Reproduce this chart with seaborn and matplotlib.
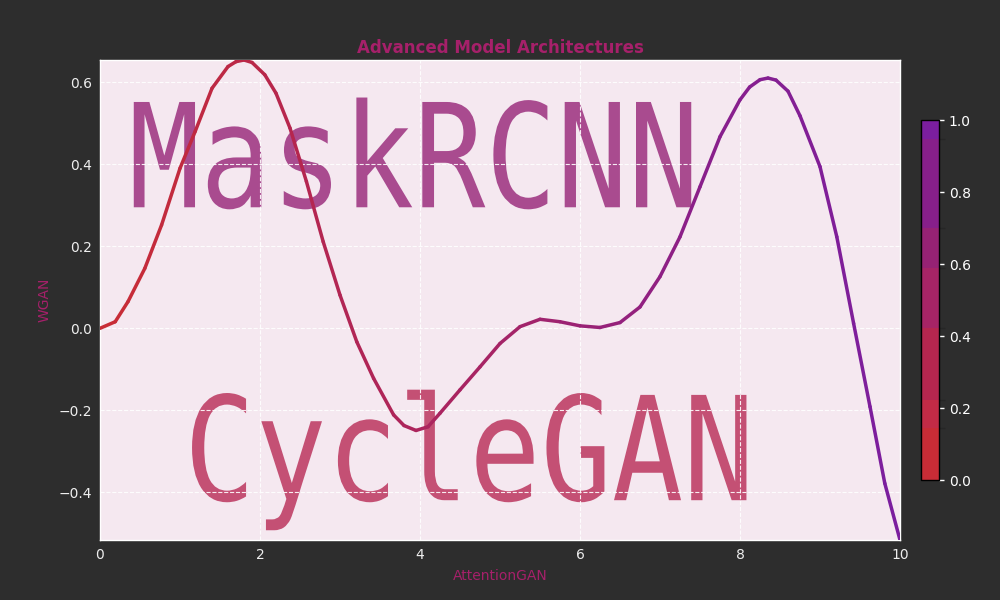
import numpy as np
import seaborn as sns
import matplotlib
matplotlib.use("Agg")
import matplotlib.pyplot as plt
from matplotlib.collections import LineCollection
from matplotlib.colors import ListedColormap, BoundaryNorm, Normalize
from matplotlib.cm import ScalarMappable
from matplotlib.patheffects import AbstractPathEffect
from matplotlib.transforms import Affine2D


# values
x_vals = [0.0, 0.19, 0.35, 0.56, 0.77, 1.0, 1.19, 1.4, 1.6, 1.7, 1.8, 1.9,
          2.06, 2.2, 2.375, 2.58, 2.79, 3.0, 3.21, 3.42, 3.67, 3.8, 3.95,
          4.1, 4.25, 4.5, 4.75, 5.0, 5.25, 5.5, 5.75, 6.0, 6.25, 6.5, 6.75,
          7.0, 7.25, 7.5, 7.75, 8.0, 8.12, 8.25, 8.35, 8.45, 8.6, 8.75, 9.0,
          9.21, 9.42, 9.625, 9.81, 10.0]
y_vals = [0.0, 0.016, 0.065, 0.146, 0.252, 0.39, 0.48, 0.585, 0.638, 0.650,
          0.654, 0.648, 0.618, 0.573, 0.488, 0.358, 0.211, 0.081, -0.033,
          -0.122, -0.211, -0.237, -0.249, -0.240, -0.207, -0.150, -0.094,
          -0.037, 0.004, 0.022, 0.016, 0.006, 0.002, 0.014, 0.052, 0.126,
          0.223, 0.345, 0.467, 0.557, 0.588, 0.606, 0.610, 0.605, 0.578,
          0.518, 0.394, 0.223, 0.012, -0.191, -0.378, -0.516]

watermarks = ["MaskRCNN", "CycleGAN"]
title = "Advanced Model Architectures"
x_label = "AttentionGAN"
y_label = "WGAN"
cbar_ticks = [0.0, 0.2, 0.4, 0.6, 0.8, 1.0]

# colour bands seen in the colour bar
band_edges = [0.0, 0.144, 0.223, 0.422, 0.589, 0.700, 0.946, 1.0]
band_colors = ['#c82c36', '#c22b46', '#b5264f', '#a62466', '#962274',
               '#871f8a', '#7b1e9f']


class Squeeze(AbstractPathEffect):
    """ squeeze glyphs horizontally around the text anchor """
    def __init__(self, sx):
        super().__init__()
        self.sx = sx

    def draw_path(self, renderer, gc, tpath, affine, rgbFace=None):
        m = affine.get_matrix().copy()
        m[0, 0] *= self.sx
        m[0, 1] *= self.sx
        renderer.draw_path(gc, tpath, Affine2D(m), rgbFace)


sns.set_theme(style="darkgrid")
bg = '#2d2d2d'
accent = '#a6206a'
plt.rcParams['font.family'] = ['DejaVu Sans']

fig = plt.figure(figsize=(10, 6), dpi=100, facecolor=bg)
ax = fig.add_axes([0.1, 0.1, 0.8, 0.8])
ax.set_facecolor('#f5e8f0')

x = np.array(x_vals)
y = np.array(y_vals)

line_cmap = sns.blend_palette(['#c92d35', '#b5264f', '#a62466', '#8a1f8a', '#7b1e9f'], as_cmap=True)
pts = np.column_stack([x, y]).reshape(-1, 1, 2)
segs = np.concatenate([pts[:-1], pts[1:]], axis=1)
lc = LineCollection(segs, cmap=line_cmap, norm=Normalize(0, 1), linewidth=2.5,
                    capstyle='round', joinstyle='round', zorder=3)
lc.set_array((x[:-1] + x[1:]) / 2 / x.max())
ax.add_collection(lc)
ax.set_xlim(x.min(), x.max())
ax.set_ylim(y.min(), y.max())

# big watermark words
ax.text(0.36, 0.295, watermarks[0], family='DejaVu Sans Mono', fontsize=104,
        color='#a94b8f', ha='left', va='baseline', zorder=0.2,
        path_effects=[Squeeze(0.82)])
ax.text(1.05, -0.419, watermarks[1], family='DejaVu Sans Mono', fontsize=104,
        color='#c45074', ha='left', va='baseline', zorder=0.2,
        path_effects=[Squeeze(0.82)])

ax.grid(True, color='white', linestyle='--', linewidth=0.8, alpha=0.9)
ax.set_xticks([0, 2, 4, 6, 8, 10])
ax.set_yticks([-0.4, -0.2, 0.0, 0.2, 0.4, 0.6])
ax.tick_params(colors='#eeeeee', labelsize=10, length=0, pad=6)
for sp in ax.spines.values():
    sp.set_visible(True)
    sp.set_color('white')
    sp.set_linewidth(1)

ax.set_title(title, color=accent, fontsize=12, fontweight='bold', pad=5)
ax.set_xlabel(x_label, color=accent, fontsize=10, labelpad=5)
ax.set_ylabel(y_label, color=accent, fontsize=10, labelpad=5)

# colour bar
cax = fig.add_axes([0.921, 0.2, 0.018, 0.6])
band_cmap = ListedColormap(band_colors)
band_norm = BoundaryNorm(band_edges, band_cmap.N)
cb = fig.colorbar(ScalarMappable(norm=band_norm, cmap=band_cmap), cax=cax,
                  spacing='proportional', ticks=cbar_ticks)
cb.outline.set_edgecolor('black')
cb.outline.set_linewidth(1)
cb.ax.tick_params(colors='white', labelsize=10, length=3.5, width=1)
cb.ax.set_yticklabels(['%.1f' % t for t in cbar_ticks])
cax.grid(False)

fig.savefig('out.png', dpi=100, facecolor=bg)
